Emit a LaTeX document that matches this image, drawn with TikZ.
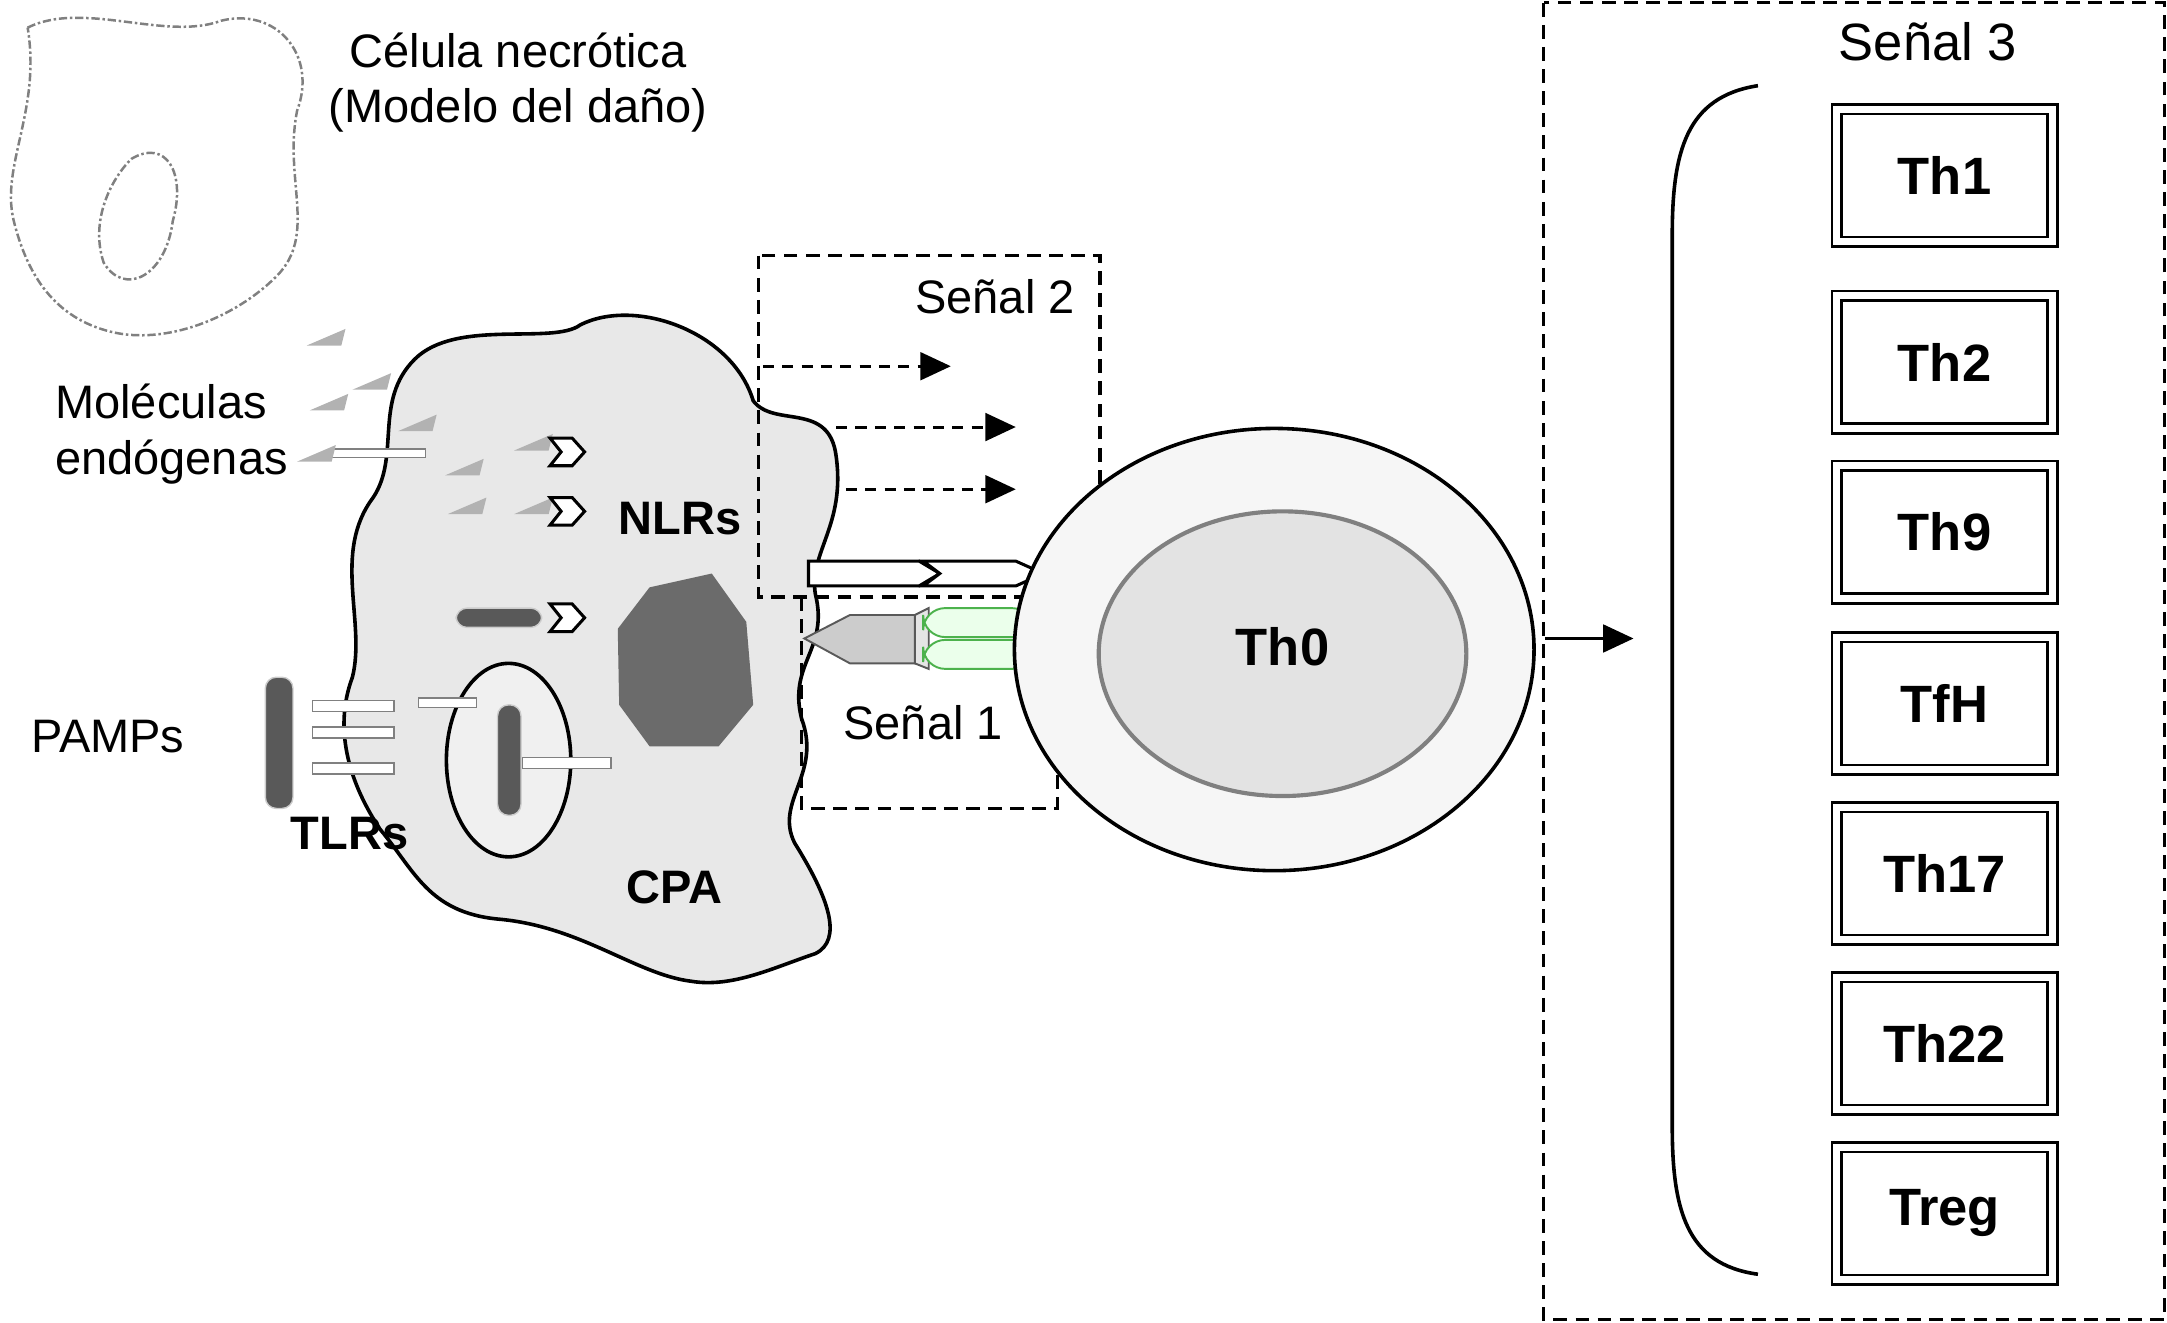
\documentclass[tikz,border=0pt]{standalone}
\usepackage{fontspec}
\setmainfont{Liberation Sans}
\usetikzlibrary{arrows.meta,shapes.arrows}
\begin{document}
\begin{tikzpicture}[x=0.5pt,y=-0.5pt,line width=1.3pt,
 lbl/.style={font=\fontsize{17}{20}\selectfont,align=left},
 blbl/.style={font=\bfseries\fontsize{17}{20}\selectfont},
 sig/.style={draw,line width=1.2pt,dash pattern=on 5pt off 3pt},
 dar/.style={line width=1.1pt,dash pattern=on 4pt off 3pt,-{Triangle[length=11pt,width=10pt]}},
 thbox/.style={draw,line width=1pt,double,double distance=2.5pt,minimum width=78pt,minimum height=48pt,font=\bfseries\fontsize{19}{22}\selectfont},
 rod/.style={fill=gray!70!black,draw=gray!40,line width=0.5pt,rounded corners=4pt},
 tri/.style={fill=gray!60,draw=none},
 rec/.style={draw=gray,fill=white,line width=0.5pt}]
\useasboundingbox (0,0) rectangle (1568,957);
% necrotic cell
\draw[gray,line width=0.9pt,densely dashdotted] (20,20) .. controls (60,0) and (120,30) .. (160,15) .. controls (200,5) and (230,40) .. (215,80) .. controls (205,130) and (230,170) .. (200,200) .. controls (170,230) and (120,250) .. (80,240) .. controls (40,230) and (20,200) .. (10,160) .. controls (0,120) and (30,80) .. (20,20);
\draw[gray,line width=0.9pt,densely dashdotted] (95,115) .. controls (120,100) and (135,125) .. (125,160) .. controls (120,200) and (90,215) .. (75,190) .. controls (65,160) and (80,130) .. (95,115);
\node[lbl,align=center] (nec) at (375,60) {Célula necrótica\\(Modelo del daño)};
\node[lbl,anchor=west] (mol) at (32,314) {Moléculas\\endógenas};
\node[lbl] (pamps) at (78,533) {PAMPs};
% APC
\draw[fill=gray!18] (300,260) .. controls (330,230) and (400,250) .. (420,235) .. controls (460,215) and (530,240) .. (545,290) .. controls (560,310) and (600,290) .. (605,330) .. controls (612,380) and (585,400) .. (590,430) .. controls (600,470) and (570,480) .. (580,520) .. controls (595,560) and (560,580) .. (575,610) .. controls (600,650) and (610,680) .. (590,690) .. controls (560,700) and (530,715) .. (500,710) .. controls (460,705) and (420,670) .. (360,665) .. controls (310,660) and (300,630) .. (275,600) .. controls (255,570) and (240,530) .. (255,490) .. controls (265,450) and (240,400) .. (270,360) .. controls (290,330) and (270,290) .. (300,260) -- cycle;
\node[blbl] (nlrs) at (492,375) {NLRs};
\node[blbl] (tlrs) at (253,603) {TLRs};
\node[blbl] (cpa) at (488,642) {CPA};
% nucleus
\fill[gray!60!black,opacity=0.8] (470,425) -- (515,415) -- (540,450) -- (545,510) -- (520,540) -- (470,540) -- (448,510) -- (447,455) -- cycle;
% phagosome
\draw[fill=gray!12] (368,550) ellipse (45 and 70);
\draw[rod] (360,510) rectangle (377,590);
\draw[rod] (192,490) rectangle (212,585);
\draw[rod] (330,440) rectangle (392,454);
% receptors
\foreach \y in {511,530,556}{\draw[rec] (226,\y-4) rectangle (285,\y+4);}
\draw[rec] (303,505) rectangle (345,512);
\draw[rec] (378,548) rectangle (442,556);
\draw[rec] (240,325) rectangle (308,331);
% triangles
\foreach \p in {(222,250),(255,282),(224,297),(288,312),(322,344),(324,372),(372,326),(372,372),(215,334)}{
 \fill[tri] \p -- ++(28,-12) -- ++(-3,12) -- cycle;}
\foreach \y in {327,370,447}{\draw[line width=1.1pt,fill=white] (398,\y-10) -- (414,\y-10) -- (423,\y) -- (414,\y+10) -- (398,\y+10) -- (406,\y) -- cycle;}
% Signal 2
\draw[sig] (549,185) rectangle (796,432);
\node[lbl] (s2) at (720,215) {Señal 2};
\coordinate (a1) at (552,265); \coordinate (b1) at (688,265);
\coordinate (a2) at (605,309); \coordinate (b2) at (735,309);
\coordinate (a3) at (612,354); \coordinate (b3) at (735,354);
\draw[dar] (a1) -- (b1); \draw[dar] (a2) -- (b2); \draw[dar] (a3) -- (b3);
\draw[line width=1.1pt,fill=white] (585,406) -- (665,406) -- (680,415) -- (665,424) -- (585,424) -- cycle;
\draw[line width=1.1pt,fill=white] (668,406) -- (735,406) -- (755,415) -- (735,424) -- (668,424) -- (680,415) -- cycle;
% Signal 1
\draw[sig] (580,432) rectangle (765,585);
\node[lbl] (s1) at (668,523) {Señal 1};
\draw[gray!70!black,line width=0.7pt,fill=gray!40] (582,462) -- (615,445) -- (665,445) -- (665,480) -- (615,480) -- cycle;
\draw[gray!70!black,line width=0.7pt,fill=gray!20] (662,445) -- (672,440) -- (672,484) -- (662,480) -- cycle;
\draw[green!40!gray,line width=0.7pt,fill=green!8,rounded corners=8pt] (668,440) rectangle (748,461);
\draw[green!40!gray,line width=0.7pt,fill=green!8,rounded corners=8pt] (668,463) rectangle (748,484);
% Th0
\draw[fill=gray!7] (922,470) ellipse (188 and 160);
\draw[gray,line width=1.5pt,fill=gray!22] (928,473) ellipse (133 and 103);
\node[font=\bfseries\fontsize{19}{22}\selectfont] (th0) at (928,468) {Th0};
% Signal 3
\draw[sig] (1117,2) rectangle (1566,955);
\node[font=\fontsize{19}{22}\selectfont] (s3) at (1395,30) {Señal 3};
\coordinate (c1) at (1118,462); \coordinate (c2) at (1182,462);
\draw[line width=1.1pt,-{Triangle[length=11pt,width=10pt]}] (c1) -- (c2);
\draw (1272,62) .. controls (1220,70) and (1210,110) .. (1210,170) -- (1210,815) .. controls (1210,875) and (1220,915) .. (1272,922);
\foreach \t/\y in {Th1/127,Th2/262,Th9/385,TfH/509,Th17/632,Th22/755,Treg/878}{
 \node[thbox] (n\t) at (1407,\y) {\t};}
\end{tikzpicture}
\end{document}
